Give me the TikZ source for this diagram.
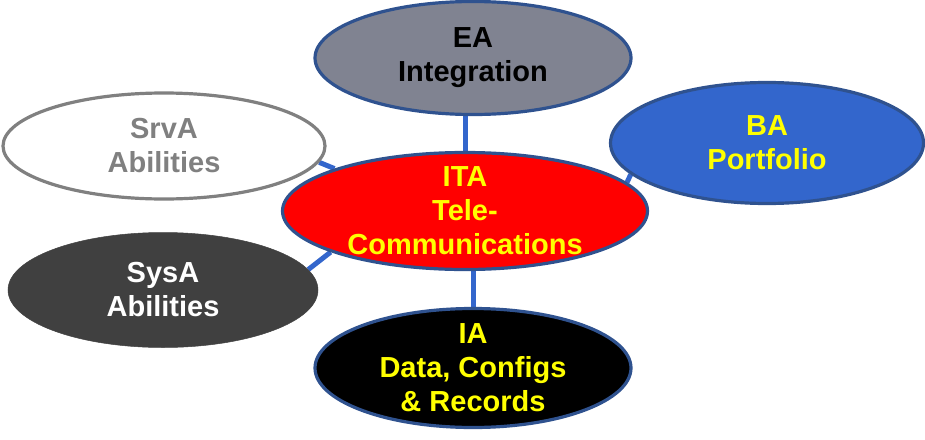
\documentclass[tikz,border=0pt]{standalone}
\usepackage{fontspec}
\setmainfont{Liberation Sans}
\usetikzlibrary{shapes.geometric,backgrounds}
\definecolor{conn}{RGB}{51,102,204}
\definecolor{rim}{RGB}{47,82,143}
\definecolor{eagray}{RGB}{128,131,145}
\definecolor{srvgray}{RGB}{128,128,128}
\definecolor{sysgray}{RGB}{64,64,64}
\definecolor{bablue}{RGB}{51,102,204}
\definecolor{itared}{RGB}{255,0,0}
\definecolor{txtyellow}{RGB}{255,255,0}
\begin{document}
\begin{tikzpicture}[x=1pt,y=-1pt,
  oval/.style={ellipse, inner sep=0pt, line width=3.2pt},
  lbl/.style={align=center, font=\fontsize{29}{34}\selectfont\bfseries, inner sep=0pt},
  link/.style={draw=conn, line width=5pt}]
\useasboundingbox (0,0) rectangle (925,439);

\node[oval, draw=rim, fill=eagray, minimum width=316pt, minimum height=113pt] (EA) at (473,58) {};
\node[oval, draw=srvgray, fill=white, minimum width=322pt, minimum height=106pt] (SrvA) at (164,146) {};
\node[oval, draw=rim, fill=bablue, minimum width=313pt, minimum height=121pt] (BA) at (767,143) {};
\node[oval, draw=rim, fill=itared, minimum width=365pt, minimum height=117pt] (ITA) at (465,211) {};
\node[oval, draw=sysgray, fill=sysgray, line width=0.5pt, minimum width=310pt, minimum height=115pt] (SysA) at (163,290) {};
\node[oval, draw=rim, fill=black, minimum width=316pt, minimum height=119pt] (IA) at (473,368) {};

\node[lbl, text=black] (EAt) at (EA) {EA\\Integration};
\node[lbl, text=srvgray] (SrvAt) at (SrvA) {SrvA\\Abilities};
\node[lbl, text=txtyellow] (BAt) at (BA) {BA\\Portfolio};
\node[lbl, text=txtyellow] (ITAt) at (ITA) {ITA\\Tele-\\Communications};
\node[lbl, text=white] (SysAt) at (SysA) {SysA\\Abilities};
\node[lbl, text=txtyellow] (IAt) at (IA) {IA\\Data, Configs\\\& Records};

\begin{scope}[on background layer]
\draw[link] (SrvA.-6) -- (ITA.162);
\draw[link] (SysA.8) -- (ITA.197);
\draw[link] (BA.193) -- (ITA.10);
\draw[link] (ITA.north) -- (ITA.north |- EA.south);
\draw[link] (IA.north) -- (IA.north |- ITA.south);
\end{scope}
\end{tikzpicture}
\end{document}
